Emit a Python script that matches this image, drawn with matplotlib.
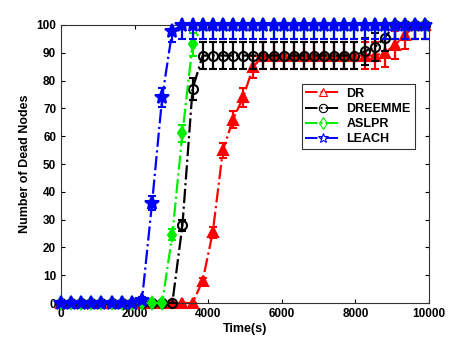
import matplotlib.pyplot as plt
from matplotlib.lines import Line2D

# time axis, one sample every 275 s
tempo = [i * 275 for i in range(37)]

dr = [0]*14 + [8, 25.5, 55, 66, 74, 85] + [89]*12 + [90, 92.8, 96.4, 100, 100]
dr_err = [0]*14 + [1, 2, 2.7, 3, 3.5, 4] + [5]*17

dreemme = [0]*12 + [28, 77] + [89]*16 + [90.5, 92, 95.5, 100, 100, 100, 100]
dreemme_err = [0]*12 + [2, 4] + [5]*23

aslpr = [0]*11 + [24.5, 61, 93] + [100]*23
aslpr_err = [0]*11 + [2, 3, 4] + [5]*23

leach = [0]*8 + [1, 36, 74, 98] + [100]*25
leach_err = [0]*8 + [1, 2.5, 3.5, 4] + [5]*25

nomes = ["DR", "DREEMME", "ASLPR", "LEACH"]
cores = ["#ff0000", "#000000", "#00ee00", "#0000ff"]
marcas = ["^", "o", "d", "*"]
tamanhos = [7, 6.5, 6.5, 10]
preench = [True, False, True, True]

plt.rcParams['font.family'] = ['Liberation Sans', 'DejaVu Sans']
plt.rcParams['font.weight'] = 'bold'

fig = plt.figure(figsize=(4.74, 3.41), dpi=100)
ax = fig.add_axes([0.1287, 0.1114, 0.7763, 0.8153])

series = [(dr, dr_err), (dreemme, dreemme_err), (aslpr, aslpr_err), (leach, leach_err)]
for k in range(4):
    y, e = series[k]
    c = cores[k]
    eb = ax.errorbar(tempo, y, yerr=e, color=c, ls='-.', lw=1.6,
                     marker=marcas[k], ms=tamanhos[k],
                     mfc=c if preench[k] else 'none', mec=c, mew=1.5,
                     ecolor=c, elinewidth=1.6, capsize=3.2, capthick=1.6,
                     zorder=2 + k)
    # marcadores nas bordas ficam inteiros, barras de erro cortadas
    eb.lines[0].set_clip_on(False)

ax.set_xlim(0, 10000)
ax.set_ylim(0, 100)
ax.set_xticks([0, 2000, 4000, 6000, 8000, 10000])
ax.set_yticks(range(0, 101, 10))
ax.tick_params(direction='in', top=True, right=True, labelsize=8.5, length=3, width=0.8)
for lab in ax.get_xticklabels() + ax.get_yticklabels():
    lab.set_fontweight('bold')
for s in ax.spines.values():
    s.set_linewidth(0.8)
    s.set_color('#333333')

ax.set_xlabel("Time(s)", fontsize=9, fontweight='bold', labelpad=2)
ax.set_ylabel("Number of Dead Nodes", fontsize=9, fontweight='bold', labelpad=4)

# legenda com marcadores vazados
handles = []
for k in range(4):
    handles.append(Line2D([], [], color=cores[k], ls='-.', lw=1.4, marker=marcas[k],
                          ms=6 if k < 3 else 7, mfc='none', mec=cores[k], mew=0.8))
leg = ax.legend(handles, nomes, loc='upper right', bbox_to_anchor=(0.978, 0.81),
                fontsize=9, frameon=True, fancybox=False, handlelength=2.8,
                borderpad=0.3, labelspacing=0.25, handletextpad=0.5)
leg.get_frame().set_edgecolor('black')
leg.get_frame().set_linewidth(0.8)
leg.set_zorder(10)
for t in leg.get_texts():
    t.set_fontweight('bold')

fig.savefig("out.png", dpi=100)
